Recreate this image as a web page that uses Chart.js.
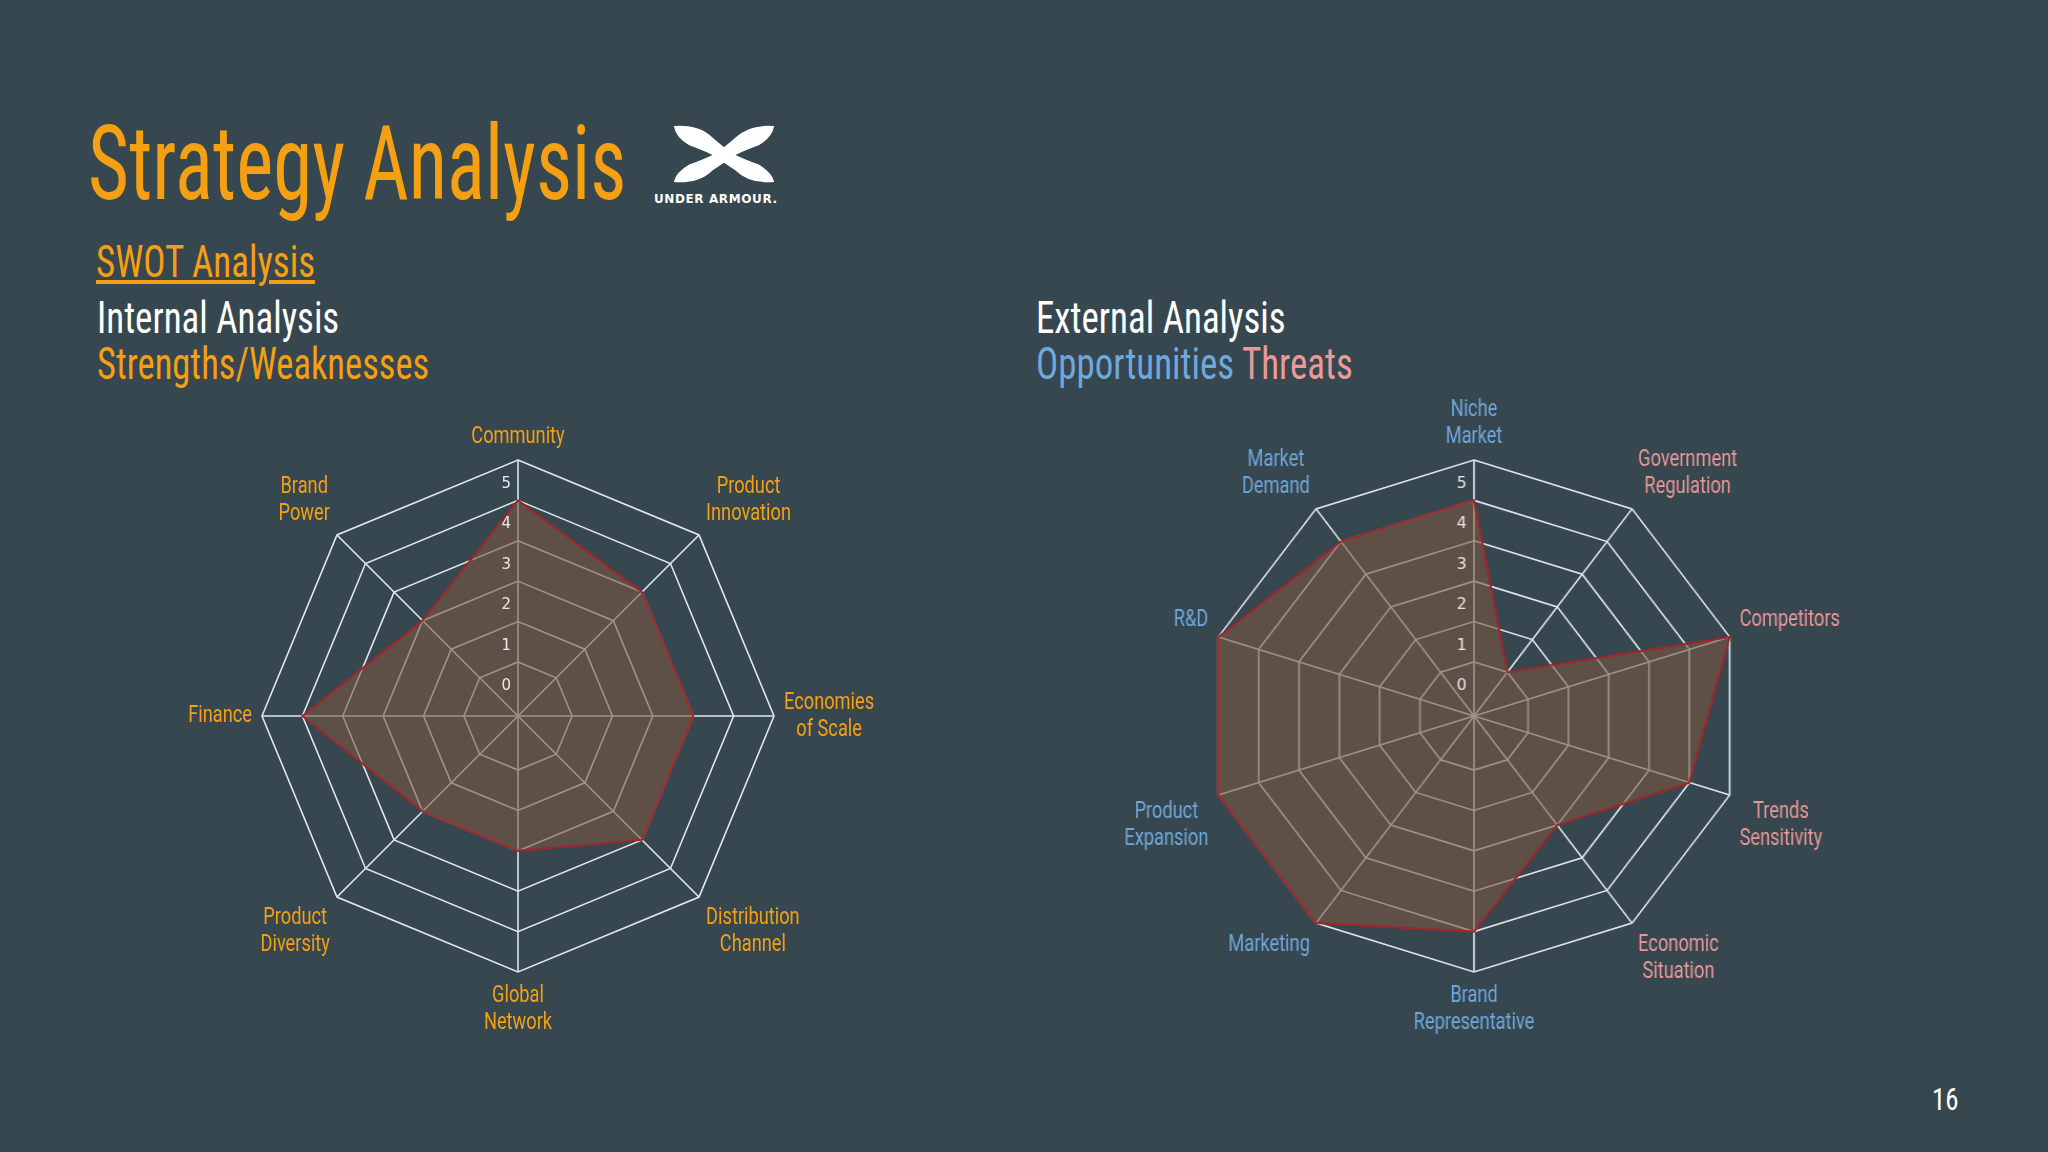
<!DOCTYPE html>
<html><head><meta charset="utf-8">
<script src="https://cdn.jsdelivr.net/npm/chart.js@4"></script>
<style>
html,body{margin:0;padding:0;background:#37474f;width:2048px;height:1152px;overflow:hidden;font-family:'Liberation Sans Narrow','Roboto Condensed','Roboto',sans-serif}
.t{position:absolute;white-space:nowrap;line-height:1;transform-origin:0 0}
canvas{position:absolute}
</style></head><body>
<div class="t" style="left:88px;top:112px;font-size:104px;color:#f5a012;transform:scaleX(0.76)">Strategy Analysis</div>
<svg style="position:absolute;left:670px;top:122px" width="108" height="64" viewBox="0 0 112 66">
<path fill="#fff" d="M4 4 Q30 2 44 16 L56 26 L68 16 Q82 2 108 4 Q106 16 92 24 Q76 30 68 34 Q76 38 92 44 Q106 52 108 62 Q82 64 68 50 L56 42 L44 50 Q30 64 4 62 Q6 52 20 44 Q36 38 44 34 Q36 30 20 24 Q6 16 4 4 Z"/>
</svg>
<div class="t" style="left:654px;top:193px;font-family:'DejaVu Sans';font-weight:bold;font-size:12px;color:#fff;letter-spacing:0.6px">UNDER ARMOUR.</div>
<div class="t" style="left:96px;top:240px;font-size:44px;color:#f5a012;text-decoration:underline;transform:scaleX(0.84)">SWOT Analysis</div>
<div class="t" style="left:97px;top:296px;font-size:44px;color:#fff;transform:scaleX(0.84)">Internal Analysis</div>
<div class="t" style="left:97px;top:342px;font-size:44px;color:#f5a012;transform:scaleX(0.83)">Strengths/Weaknesses</div>
<div class="t" style="left:1036px;top:296px;font-size:44px;color:#fff;transform:scaleX(0.84)">External Analysis</div>
<div class="t" style="left:1036px;top:342px;font-size:44px;transform:scaleX(0.84)"><span style="color:#6fa8dc">Opportunities</span> <span style="color:#ea9999">Threats</span></div>
<div class="t" style="left:1932px;top:1083px;font-size:32px;color:#fff;transform:scaleX(0.84)">16</div>
<canvas id="c1" style="left:68px;top:266px" width="900" height="900"></canvas>
<canvas id="c2" style="left:1024px;top:266px;transform:scaleX(1.05);transform-origin:450px 450px" width="900" height="900"></canvas>
<script>
const internalLabels = [["Community"],["Product","Innovation"],["Economies","of Scale"],["Distribution","Channel"],["Global","Network"],["Product","Diversity"],["Finance"],["Brand","Power"]];
const internalValues = [4,3,3,3,2,2,4,2];
const internalColors = ["#f5a012","#f5a012","#f5a012","#f5a012","#f5a012","#f5a012","#f5a012","#f5a012"];
const externalLabels = [["Niche","Market"],["Government","Regulation"],["Competitors"],["Trends","Sensitivity"],["Economic","Situation"],["Brand","Representative"],["Marketing"],["Product","Expansion"],["R&D"],["Market","Demand"]];
const externalValues = [4,0,5,4,2,4,5,5,5,4];
const externalColors = ["#6fa8dc","#ea9999","#ea9999","#ea9999","#ea9999","#6fa8dc","#6fa8dc","#6fa8dc","#6fa8dc","#6fa8dc"];
const tickValues = [0,1,2,3,4,5];

const labelPlugin = {
  id:'lbl',
  afterDraw(chart, args, opts){
    const s = chart.scales.r, ctx = chart.ctx;
    ctx.save();
    ctx.font = '15px "DejaVu Sans"'; ctx.fillStyle = '#e8e8e8';
    ctx.textAlign='right'; ctx.textBaseline='middle';
    tickValues.forEach(v=>{
      const d = s.getDistanceFromCenterForValue(v-0.6);
      ctx.fillText(String(v), s.xCenter-7, s.yCenter-d);
    });
    const sx = 0.76*opts.tx;
    ctx.font = '24px "Liberation Sans Narrow","Roboto",sans-serif';
    const lh = 27;
    opts.labels.forEach((lines,i)=>{
      const p = s.getPointPosition(i, s.getDistanceFromCenterForValue(5)+10);
      const dx = p.x - s.xCenter, dy = p.y - s.yCenter, r = Math.hypot(dx,dy);
      const cx = dx/r, cy = dy/r;
      const w = Math.max(...lines.map(l=>ctx.measureText(l).width))*sx;
      const h = lines.length*lh;
      let left = cx>0.15 ? p.x : cx<-0.15 ? p.x-w : p.x-w/2;
      let top = cy>0.15 ? p.y : cy<-0.15 ? p.y-h : p.y-h/2;
      ctx.fillStyle = opts.colors[i];
      ctx.textAlign='center'; ctx.textBaseline='middle';
      lines.forEach((l,k)=>{
        ctx.save();
        ctx.translate(left+w/2, top+lh*k+lh/2);
        ctx.scale(sx,1);
        ctx.fillText(l, 0, 0);
        ctx.restore();
      });
    });
    ctx.restore();
  }
};

function make(id, labels, values, colors, tx){
  new Chart(document.getElementById(id), {
    type:'radar',
    data:{labels:labels.map(l=>l.join(' ')), datasets:[{data:values, backgroundColor:'rgba(122,86,67,0.6)', borderColor:'#a0262a', borderWidth:2, pointRadius:0, fill:'start'}]},
    options:{
      responsive:false, animation:false,
      layout:{padding:194},
      plugins:{legend:{display:false}, tooltip:{enabled:false}, lbl:{labels, colors, tx}},
      scales:{r:{
        min:-1.34, max:5,
        afterBuildTicks:(sc)=>{sc.ticks = tickValues.map(v=>({value:v}));},
        ticks:{display:false},
        pointLabels:{display:false},
        grid:{color:'#dfe7ee', lineWidth:1.6},
        angleLines:{color:'#dfe7ee', lineWidth:1.6}
      }}
    },
    plugins:[labelPlugin]
  });
}
make('c1', internalLabels, internalValues, internalColors, 1);
make('c2', externalLabels, externalValues, externalColors, 1/1.05);
</script>
</body></html>
